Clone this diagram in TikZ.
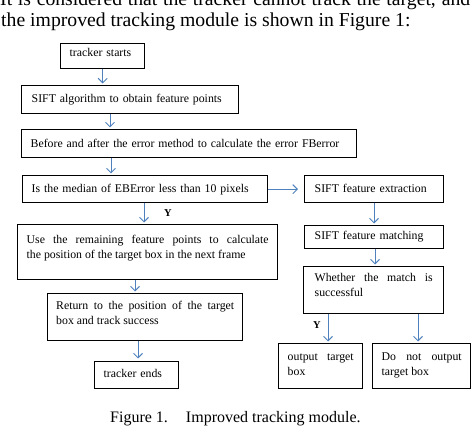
\documentclass[tikz,border=0pt]{standalone}
\usepackage{fontspec}
\setmainfont{Liberation Serif}
\usetikzlibrary{arrows.meta}
\definecolor{arrowblue}{RGB}{79,129,189}

\begin{document}
\begin{tikzpicture}[x=1pt, y=-1pt,
  box/.style={draw, line width=1.4pt, anchor=north west, align=left, inner xsep=9pt, inner ysep=0pt, font=\fontsize{11.8}{14.5}\selectfont},
  arr/.style={draw=arrowblue, line width=1pt, -{Straight Barb[length=4.5pt,width=9pt]}, shorten >=1.5pt},
  ylabel/.style={font=\fontsize{10.5}{12}\selectfont\bfseries, inner sep=0pt},
  pagetext/.style={anchor=base west, inner sep=0pt}]
\useasboundingbox (0,0) rectangle (474,446);
\node[pagetext, font=\fontsize{19.7}{22}\selectfont] (para1) at (0,6) {\makebox[470pt][s]{It is considered that the tracker cannot track the target, and}};
\node[pagetext, font=\fontsize{19.7}{22}\selectfont] (para2) at (1,27) {the improved tracking module is shown in Figure 1:};
\node[box, text width=66pt, text height=13pt, text depth=12pt] (start) at (60,43) {tracker starts};
\node[box, inner xsep=10pt, text width=197pt, text height=17pt, text depth=11pt] (sift) at (21,85) {SIFT algorithm to obtain feature points};
\node[box, text width=317pt, text height=18pt, text depth=10pt] (before) at (21,129) {Before and after the error method to calculate the error FBerror};
\node[box, text width=227pt, text height=17pt, text depth=10pt] (median) at (22,175) {Is the median of EBError less than 10 pixels};
\node[box, inner xsep=10pt, text width=119pt, text height=17pt, text depth=10pt] (extract) at (304,175) {SIFT feature extraction};
\node[box, inner xsep=10pt, text width=119pt, text height=14pt, text depth=9pt] (match) at (304,225) {SIFT feature matching};
\node[box, align=justify, inner xsep=11pt, text width=118pt, text height=15pt, text depth=32pt] (whether) at (303,266) {Whether the match is\linebreak successful};
\node[box, align=justify, text width=242pt, text height=19pt, text depth=36pt] (use) at (17,224) {Use the remaining feature points to calculate\linebreak the position of the target box in the next frame};
\node[box, align=justify, inner xsep=8.5pt, text width=178pt, text height=16pt, text depth=31pt] (return) at (47,293) {Return to the position of the target\linebreak box and track success};
\node[box, text width=66pt, text height=16pt, text depth=11pt] (ends) at (94,361) {tracker ends};
\node[box, align=justify, text width=66pt, text height=17pt, text depth=28pt] (output) at (278,343) {output target\linebreak box};
\node[box, align=justify, text width=80pt, text height=17pt, text depth=28pt] (nooutput) at (372,343) {Do not output\linebreak target box};
\node[pagetext, font=\fontsize{16}{19}\selectfont] (caption) at (110,422) {Figure 1.\hspace{18pt}Improved tracking module.};
\draw[arr] (start.south) -- (start.south |- sift.north);
\draw[arr] (sift.south -| 110,0) -- (before.north -| 110,0);
\draw[arr] (before.south -| 111,0) -- (median.north -| 111,0);
\draw[arr, shorten >=6pt] (median.east) -- (extract.west);
\draw[arr] (median.south -| 144,0) -- node[ylabel, pos=0.45, xshift=24pt] (yuse) {Y} (use.north -| 144,0);
\draw[arr] (use.south -| 135,0) -- (return.north -| 135,0);
\draw[arr, shorten >=2.5pt] (return.south -| 138,0) -- (ends.north -| 138,0);
\draw[arr] (extract.south -| 374,0) -- (match.north -| 374,0);
\draw[arr] (match.south -| 375,0) -- (whether.north -| 375,0);
\draw[arr] (whether.south -| 328,0) -- node[ylabel, pos=0.38, xshift=-11pt] (yout) {Y} (output.north -| 328,0);
\draw[arr] (whether.south -| 418,0) -- (nooutput.north -| 418,0);
\end{tikzpicture}
\end{document}
